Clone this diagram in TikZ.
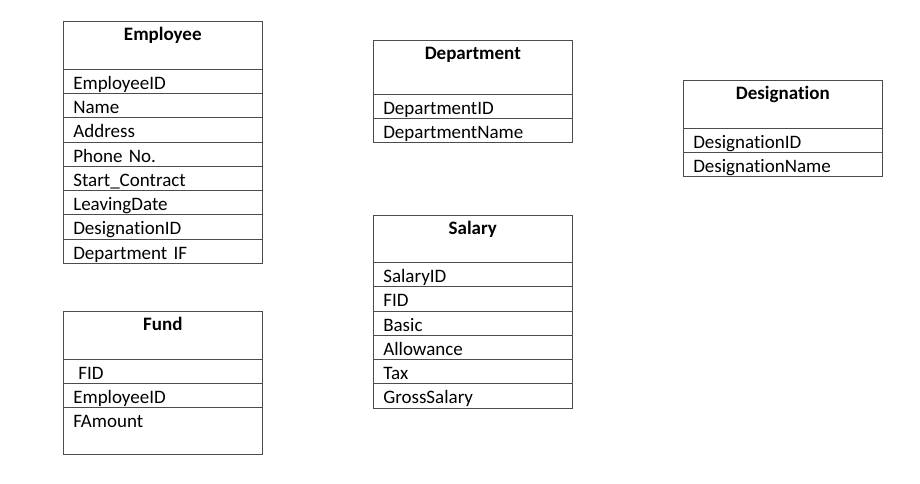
\documentclass[tikz,border=0pt]{standalone}
\usepackage{fontspec}
\setmainfont{Carlito}[Ligatures={NoCommon,NoContextual}]
\usetikzlibrary{positioning}
\tikzset{
  tbl/.style={draw=black!70, line width=0.9pt, outer sep=0pt, inner ysep=0pt,
    font=\fontsize{19}{23}\selectfont},
  head/.style={tbl, anchor=north west, minimum width=199pt, text width=199pt,
    inner xsep=0pt, align=center, text height=19pt, text depth=28.6pt,
    font=\fontsize{19}{23}\selectfont\bfseries},
  field/.style={tbl, minimum width=199pt, text width=179pt, inner xsep=10pt,
    align=left, text height=20pt, text depth=4.25pt},
  tallfield/.style={field, text depth=26.8pt}
}
\begin{document}
\begin{tikzpicture}[x=1pt, y=-1pt]
  \useasboundingbox (0,0) rectangle (920,483);
  % employee
  \node[head] (emp) at (63.3,21.7) {Employee};
  \node[field, below=0pt of emp] (emp1) {EmployeeID};
  \node[field, below=0pt of emp1] (emp2) {Name};
  \node[field, below=0pt of emp2] (emp3) {Address};
  \node[field, below=0pt of emp3] (emp4) {Phone No.};
  \node[field, below=0pt of emp4] (emp5) {Start\_Contract};
  \node[field, below=0pt of emp5] (emp6) {LeavingDate};
  \node[field, below=0pt of emp6] (emp7) {DesignationID};
  \node[field, below=0pt of emp7] (emp8) {Department IF};
  % department
  \node[head, text depth=35pt] (dep) at (373.3,40) {Department};
  \node[field, below=0pt of dep] (dep1) {DepartmentID};
  \node[field, below=0pt of dep1] (dep2) {DepartmentName};
  % designation
  \node[head] (des) at (683.3,80.7) {Designation};
  \node[field, below=0pt of des] (des1) {DesignationID};
  \node[field, below=0pt of des1] (des2) {DesignationName};
  % salary
  \node[head] (sal) at (373.3,215) {Salary};
  \node[field, below=0pt of sal] (sal1) {SalaryID};
  \node[field, below=0pt of sal1] (sal2) {FID};
  \node[field, below=0pt of sal2] (sal3) {Basic};
  \node[field, below=0pt of sal3] (sal4) {Allowance};
  \node[field, below=0pt of sal4] (sal5) {Tax};
  \node[field, below=0pt of sal5] (sal6) {GrossSalary};
  % fund
  \node[head] (fnd) at (63.3,311.7) {Fund};
  \node[field, below=0pt of fnd] (fnd1) {\hspace*{5pt}FID};
  \node[field, below=0pt of fnd1] (fnd2) {EmployeeID};
  \node[tallfield, below=0pt of fnd2] (fnd3) {FAmount};
\end{tikzpicture}
\end{document}
